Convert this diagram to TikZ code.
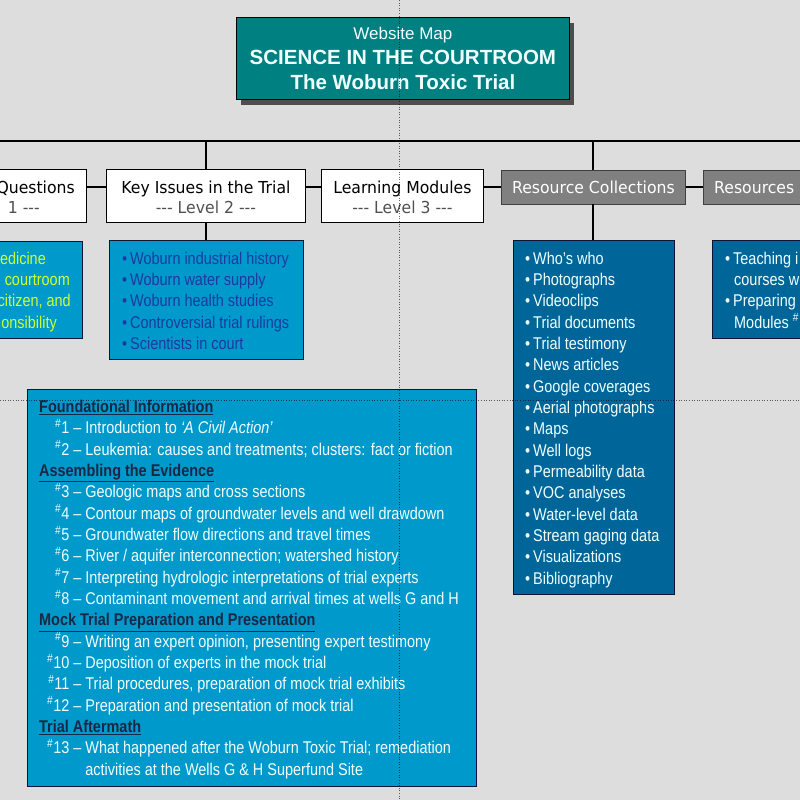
\documentclass[tikz,border=0pt]{standalone}
\usepackage{fontspec}
\setmainfont{Liberation Sans}
\newfontfamily\lstfont{Liberation Sans}[FakeStretch=0.85]
\newfontfamily\hdrfont{DejaVu Sans}[FakeStretch=0.95]
\definecolor{bg}{RGB}{221,221,221}
\definecolor{tealc}{RGB}{0,128,128}
\definecolor{shadowc}{RGB}{77,77,77}
\definecolor{lblue}{RGB}{0,153,204}
\definecolor{dblue}{RGB}{0,102,153}
\definecolor{gboxc}{RGB}{128,128,128}
\definecolor{navytxt}{RGB}{28,58,160}
\definecolor{headtxt}{RGB}{25,40,70}
\definecolor{ygtxt}{RGB}{204,255,51}
\definecolor{lvl}{RGB}{80,80,80}
\definecolor{wtxt}{RGB}{240,255,255}
\definecolor{bordc}{RGB}{15,20,50}
\newcommand\bul{\makebox[8pt][l]{•}}
\newcommand\hnum[1]{\textsuperscript{\#}#1}
\newcommand\hd[1]{{\color{headtxt}\bfseries\underline{#1}}}
\tikzset{
  conn/.style={line width=2pt, black},
  whitebox/.style={draw=black, line width=0.8pt, fill=white, inner sep=0pt},
  graybox/.style={draw=black!75, line width=0.8pt, fill=gboxc, inner sep=0pt},
  lbbox/.style={draw=bordc, line width=0.8pt, fill=lblue, inner sep=0pt},
  dbbox/.style={draw=bordc, line width=0.8pt, fill=dblue, inner sep=0pt},
  hdr/.style={font=\hdrfont\fontsize{16.5}{20}\selectfont, inner sep=0pt},
  lst/.style={font=\lstfont\fontsize{17}{21.35}\selectfont, inner sep=0pt},
  guide/.style={dotted, line width=0.6pt, black, opacity=0.6}
}
\begin{document}
\begin{tikzpicture}[x=1pt,y=-1pt]
\useasboundingbox (0,0) rectangle (800,800);
\fill[bg] (0,0) rectangle (800,800);
\begin{scope}
\clip (0,0) rectangle (800,800);
% title
\fill[shadowc] (241,23) rectangle (574,105);
\node[draw=black, line width=0.8pt, fill=tealc, anchor=north west, minimum width=333pt, minimum height=82pt, inner sep=0pt] (title) at (236,17) {};
\node[anchor=base, text=wtxt, font=\fontsize{17}{20}\selectfont, inner sep=0pt] (tt1) at (title.center |- 0,40) {Website Map};
\node[anchor=base, text=wtxt, font=\bfseries\fontsize{20.5}{24}\selectfont, inner sep=0pt] (tt2) at (title.center |- 0,64) {SCIENCE IN THE COURTROOM};
\node[anchor=base, text=wtxt, font=\bfseries\fontsize{20.5}{24}\selectfont, inner sep=0pt] (tt3) at (title.center |- 0,89) {The Woburn Toxic Trial};
% main horizontal line
\coordinate (hl) at (0,141);
\coordinate (hr) at (800,141);
\draw[conn] (hl) -- (hr);
% level boxes
\node[whitebox, anchor=north east, minimum width=200pt, minimum height=53pt] (q) at (87,169) {};
\node[whitebox, anchor=north west, minimum width=199pt, minimum height=53pt] (ki) at (106,169) {};
\node[whitebox, anchor=north west, minimum width=162pt, minimum height=53pt] (lm) at (321,169) {};
\node[graybox, anchor=north west, minimum width=184pt, minimum height=33.5pt] (rc) at (501,170) {};
\node[graybox, anchor=north west, minimum width=200pt, minimum height=33.5pt] (rs) at (703,170) {};
\node[hdr, anchor=base east] (qt) at (75,193) {Questions};
\node[hdr, anchor=base east, text=lvl] (ql) at (40,213) {1 -{}-{}-};
\node[hdr, anchor=base] (kit) at (ki.center |- 0,193) {Key Issues in the Trial};
\node[hdr, anchor=base, text=lvl] (kil) at (ki.center |- 0,213) {-{}-{}- Level 2 -{}-{}-};
\node[hdr, anchor=base] (lmt) at (lm.center |- 0,193) {Learning Modules};
\node[hdr, anchor=base, text=lvl] (lml) at (lm.center |- 0,213) {-{}-{}- Level 3 -{}-{}-};
\node[hdr, anchor=base, text=white] (rct) at (rc.center |- 0,193) {Resource Collections};
\node[hdr, anchor=base west, text=white] (rst) at (714,193) {Resources};
% connectors
\draw[conn] (ki.north) -- (ki.north |- hl);
\draw[conn] (rc.north) -- (rc.north |- hl);
\draw[conn] (q.east |- rc.west) -- (ki.west |- rc.west);
\draw[conn] (ki.east |- rc.west) -- (lm.west |- rc.west);
\draw[conn] (lm.east |- rc.west) -- (rc.west);
\draw[conn] (rc.east) -- (rs.west);
% list boxes
\node[lbbox, anchor=north east, minimum width=200pt, minimum height=97pt] (qlist) at (83,241) {};
\node[lbbox, anchor=north west, minimum width=194pt, minimum height=119pt] (klist) at (109,240) {};
\node[dbbox, anchor=north west, minimum width=161pt, minimum height=354pt] (rclist) at (513,240) {};
\node[dbbox, anchor=north west, minimum width=200pt, minimum height=98pt] (rslist) at (712,240) {};
\node[lbbox, anchor=north west, minimum width=449pt, minimum height=397pt] (mods) at (27,389) {};
\draw[conn] (ki.south) -- (ki.south |- klist.north);
\draw[conn] (rc.south) -- (rc.south |- rclist.north);
% texts in list boxes
\node[lst, anchor=base east, text=ygtxt] (q1) at (46,264) {edicine};
\node[lst, anchor=base east, text=ygtxt] (q2) at (70,285.35) {courtroom};
\node[lst, anchor=base east, text=ygtxt] (q3) at (71,306.7) {citizen, and};
\node[lst, anchor=base east, text=ygtxt] (q4) at (57,328.05) {onsibility};
\node[lst, anchor=base west, text=navytxt] (kltxt) at (122,264) {\begin{tabular}[t]{@{}l@{}}
\bul Woburn industrial history\\
\bul Woburn water supply\\
\bul Woburn health studies\\
\bul Controversial trial rulings\\
\bul Scientists in court
\end{tabular}};
\node[lst, anchor=base west, text=wtxt] (rctxt) at (525,264) {\begin{tabular}[t]{@{}l@{}}
\bul Who’s who\\
\bul Photographs\\
\bul Videoclips\\
\bul Trial documents\\
\bul Trial testimony\\
\bul News articles\\
\bul Google coverages\\
\bul Aerial photographs\\
\bul Maps\\
\bul Well logs\\
\bul Permeability data\\
\bul VOC analyses\\
\bul Water-level data\\
\bul Stream gaging data\\
\bul Visualizations\\
\bul Bibliography
\end{tabular}};
\node[lst, anchor=base west, text=wtxt] (rstxt) at (725,264) {\begin{tabular}[t]{@{}l@{}}
\bul Teaching i\\
\hphantom{\bul}\hspace{1pt}courses w\\
\bul Preparing\\
\hphantom{\bul}\hspace{1pt}Modules \textsuperscript{\#}
\end{tabular}};
\node[lst, anchor=base west, text=wtxt] (modtxt) at (39,412.3) {\begin{tabular}[t]{@{\hspace{8pt}}r@{\hspace{4pt}}l@{}}
\multicolumn{2}{@{}l@{}}{\hd{Foundational Information}}\\
\hnum{1} & – Introduction to \textit{‘A Civil Action’}\\
\hnum{2} & – Leukemia: causes and treatments; clusters: fact or fiction\\
\multicolumn{2}{@{}l@{}}{\hd{Assembling the Evidence}}\\
\hnum{3} & – Geologic maps and cross sections\\
\hnum{4} & – Contour maps of groundwater levels and well drawdown\\
\hnum{5} & – Groundwater flow directions and travel times\\
\hnum{6} & – River / aquifer interconnection; watershed history\\
\hnum{7} & – Interpreting hydrologic interpretations of trial experts\\
\hnum{8} & – Contaminant movement and arrival times at wells G and H\\
\multicolumn{2}{@{}l@{}}{\hd{Mock Trial Preparation and Presentation}}\\
\hnum{9} & – Writing an expert opinion, presenting expert testimony\\
\hnum{10} & – Deposition of experts in the mock trial\\
\hnum{11} & – Trial procedures, preparation of mock trial exhibits\\
\hnum{12} & – Preparation and presentation of mock trial\\
\multicolumn{2}{@{}l@{}}{\hd{Trial Aftermath}}\\
\hnum{13} & – What happened after the Woburn Toxic Trial; remediation\\
 & \hphantom{– }activities at the Wells G \& H Superfund Site
\end{tabular}};
% guides
\draw[guide] (399,0) -- (399,800);
\draw[guide] (0,400) -- (800,400);
\end{scope}
\end{tikzpicture}
\end{document}
